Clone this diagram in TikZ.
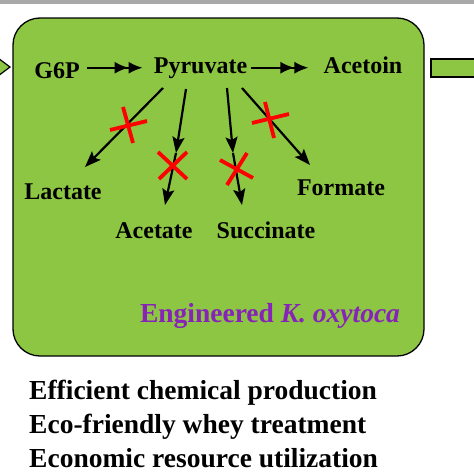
\documentclass[tikz,border=0pt]{standalone}
\usepackage{fontspec}
\setmainfont{Liberation Serif}
\usepackage{pgf,tikz}
\usetikzlibrary{arrows.meta}
\definecolor{V}{RGB}{141, 198, 66}
\definecolor{M}{RGB}{135, 35, 185}
\definecolor{Gr}{RGB}{168, 168, 168}

\tikzset{
	met/.style={anchor=base, inner sep=0pt, font=\fontsize{24}{28}\selectfont\bfseries},
	flecha/.style={line width=2.2pt, -{Stealth[length=16pt,width=12pt,inset=3pt]}},
	doble/.style={line width=2.2pt, -{Latex[length=14pt,width=12pt]Latex[length=14pt,width=12pt]}},
	cruz/.style={red, line width=3.8pt},
	linea/.style={anchor=base west, inner sep=0pt, font=\fontsize{27.5}{34}\selectfont\bfseries}
}

\begin{document}
\begin{tikzpicture}[x=1pt,y=-1pt]
	\useasboundingbox (0,0) rectangle (474,474);

	%Barra gris superior
	\fill[Gr] (0,0) rectangle (474,3.5);

	%Flechas grandes a los lados
	\filldraw[fill=V, line width=1.2pt] (-6,55) -- (10,67) -- (-6,79);
	\filldraw[fill=V, line width=1.3pt] (431,59) rectangle (485,77);

	%Caja verde (la bacteria)
	\filldraw[fill=V, line width=1.3pt, rounded corners=27pt] (13,18) rectangle (424,356);

	%Metabolitos
	\node[met] (g6p) at (57,78) {G6P};
	\node[met] (pyr) at (200.5,73) {Pyruvate};
	\node[met] (act) at (363,73) {Acetoin};
	\node[met] (lac) at (63,199) {Lactate};
	\node[met] (ace) at (154,238) {Acetate};
	\node[met] (suc) at (266,238) {Succinate};
	\node[met] (for) at (341,195) {Formate};

	%Ruta principal
	\draw[doble, shorten <=7pt, shorten >=11pt] (g6p.east |- pyr.west) -- (pyr.west);
	\draw[doble, shorten <=4pt, shorten >=15pt] (pyr.east) -- (pyr.east -| act.west);

	%Salidas de piruvato
	\coordinate (p1) at (163,88);
	\coordinate (p2) at (186,89);
	\coordinate (p3) at (227,88);
	\coordinate (p4) at (242,88);
	\coordinate (m2) at (176,153);
	\coordinate (m3) at (233,153);
	\coordinate (e1) at (85,167);
	\coordinate (e2) at (165,205);
	\coordinate (e3) at (242,205);
	\coordinate (e4) at (310,165);

	\draw[flecha] (p1) -- (e1);
	\draw[flecha] (p2) -- (m2);
	\draw[flecha] (m2) -- (e2);
	\draw[flecha] (p3) -- (m3);
	\draw[flecha] (m3) -- (e3);
	\draw[flecha] (p4) -- (e4);

	%Genes eliminados (cruces rojas)
	\draw[cruz] (110,130) -- (147,121) (123,107) -- (133,143); %lactato
	\draw[cruz] (158,152) -- (187,179) (159,179) -- (187,152); %acetato
	\draw[cruz] (220,160) -- (253,178) (227,185) -- (247,153); %succinato
	\draw[cruz] (252,123) -- (289,114) (265,102) -- (274,138); %formato

	\node[anchor=base, inner sep=0pt, text=M, font=\fontsize{27.5}{30}\selectfont\bfseries] (ing) at (270,322) {Engineered \textit{K. oxytoca}};

	%Texto inferior
	\node[linea] (l1) at (29,399) {Efficient chemical production};
	\node[linea] (l2) at (29,433) {Eco-friendly whey treatment};
	\node[linea] (l3) at (29,467) {Economic resource utilization};
\end{tikzpicture}
\end{document}
